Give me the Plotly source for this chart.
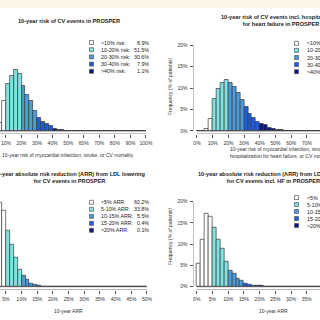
import plotly.graph_objects as go

# ---------------- data ----------------
risk_bin_width = 2.5
risk_bin_starts = [i * 2.5 for i in range(40)]  # 0..97.5
# top-left: 10-year risk of CV events (% of patients per bin)
tl_values = [0, 0, 1.9, 7.0, 11.0, 12.9, 14.2, 13.4, 10.5, 8.4, 7.0, 4.7,
             3.0, 2.1, 1.6, 1.2, 0.5, 0.3, 0.2, 0.1] + [0] * 20
# top-right: 10-year risk of CV events incl. HF
tr_values = [0, 0, 0.6, 2.9, 7.5, 9.7, 11.1, 11.8, 11.3, 10.2, 8.9, 7.3,
             5.7, 4.1, 3.0, 2.2, 1.6, 1.5, 0.8, 0.5, 0.3, 0.2, 0.1, 0.05] + [0] * 16

arr_bin_width = 1.25
arr_bin_starts = [i * 1.25 for i in range(40)]  # 0..48.75
# bottom-left: 10-year ARR
bl_values = [9.0, 13.7, 19.7, 17.8, 13.2, 9.8, 6.8, 4.0, 2.7, 1.6, 0.8, 0.4,
             0.2, 0.1, 0.05, 0.05, 0.04, 0.03, 0.02, 0.01] + [0] * 20
# bottom-right: 10-year ARR incl. HF
br_values = [5.5, 11.0, 17.3, 16.5, 13.9, 11.1, 9.0, 5.8, 3.7, 3.1, 2.0, 1.4,
             0.8, 0.55, 0.35, 0.25, 0.15, 0.1, 0.05] + [0] * 21

risk_ticks = [0, 10, 20, 30, 40, 50, 60, 70, 80, 90, 100]
arr_ticks = [0, 5, 10, 15, 20, 25, 30, 35, 40, 45, 50]
freq_ticks = [0, 5, 10, 15, 20]

risk_thresholds = [10, 20, 30, 40]
arr_thresholds = [5, 10, 15, 20]

tl_legend_labels = ["<10% risk:", "10-20% risk:", "20-30% risk:", "30-40% risk:", ">40% risk:"]
tl_legend_values = ["8.9%", "51.5%", "30.6%", "7.9%", "1.1%"]
tr_legend_labels = ["<10%", "10-20%", "20-30%", "30-40%", ">40%"]
bl_legend_labels = ["<5% ARR:", "5-10% ARR:", "10-15% ARR:", "15-20% ARR:", ">20% ARR:"]
bl_legend_values = ["60.2%", "33.8%", "5.5%", "0.4%", "0.1%"]
br_legend_labels = ["<5%", "5-10%", "10-15%", "15-20%", ">20%"]

titles = {
    "tl": "10-year risk of CV events in PROSPER",
    "tr": "10-year risk of CV events incl. hospitalization<br>for heart failure in PROSPER",
    "bl": "10-year absolute risk reduction (ARR) from LDL lowering<br>for CV events in PROSPER",
    "br": "10-year absolute risk reduction (ARR) from LDL lowering<br>for CV events incl. HF in PROSPER",
}
xtitles = {
    "tl": "10-year risk of myocardial infarction, stroke, or CV mortality",
    "tr": "10-year risk of myocardial infarction, stroke, or<br>hospitalization for heart failure, or CV mortality",
    "bl": "10-year ARR",
    "br": "10-year ARR",
}
ytitle = "Frequency (% of patients)"

# ---------------- style ----------------
palette = ["#FFFFFF", "#80E2E2", "#4C9BDA", "#1E5CE6", "#0B1782"]
edge = "#3a3a3a"
FONT = "Liberation Sans, Arial, sans-serif"
W = H = 320


def px(x):
    return x / W


def py(y):
    return 1 - y / H


def colors_for(starts, thresholds):
    out = []
    for s in starts:
        k = sum(1 for t in thresholds if s >= t)
        out.append(palette[k])
    return out


fig = go.Figure()

panels = [
    # key, axis suffix, starts, width, values, thresholds, ticks, x domain px, x range, y domain px, y range, show y
    ("tl", "", risk_bin_starts, risk_bin_width, tl_values, risk_thresholds, risk_ticks,
     (0, 152), (6.17, 103.9), (134, 42.85), (-0.7, 20.5), False),
    ("tr", "2", risk_bin_starts, risk_bin_width, tr_values, risk_thresholds, risk_ticks,
     (193.5, 320), (-2.2, 78.3), (134, 42.85), (-0.7, 20.5), True),
    ("bl", "3", arr_bin_starts, arr_bin_width, bl_values, arr_thresholds, arr_ticks,
     (0, 152), (3.1, 51.6), (289.9, 199.6), (-0.75, 20.5), False),
    ("br", "4", arr_bin_starts, arr_bin_width, br_values, arr_thresholds, arr_ticks,
     (193.5, 320), (-1.02, 39.2), (289.9, 199.6), (-0.75, 20.5), True),
]

layout_axes = {}
for key, suf, starts, bw, vals, thr, ticks, xd, xr, yd, yr, showy in panels:
    xa = "x" + suf
    ya = "y" + suf
    centers = [s + bw / 2 for s in starts]
    fig.add_trace(go.Bar(
        x=centers, y=vals, width=bw, xaxis=xa, yaxis=ya,
        marker=dict(color=colors_for(starts, thr), line=dict(color=edge, width=0.7)),
        showlegend=False, hoverinfo="skip"))
    # histogram baseline (zero-height bins)
    fig.add_trace(go.Scatter(
        x=[starts[0], starts[-1] + bw], y=[0, 0], mode="lines", xaxis=xa, yaxis=ya,
        line=dict(color=edge, width=0.7), showlegend=False, hoverinfo="skip"))
    # x axis line from first to last tick
    fig.add_trace(go.Scatter(
        x=[ticks[0], ticks[-1]], y=[yr[0], yr[0]], mode="lines", xaxis=xa, yaxis=ya,
        line=dict(color="#555", width=0.7), cliponaxis=False,
        showlegend=False, hoverinfo="skip"))
    if showy:
        fig.add_trace(go.Scatter(
            x=[xr[0], xr[0]], y=[freq_ticks[0], freq_ticks[-1]], mode="lines",
            xaxis=xa, yaxis=ya, line=dict(color="#555", width=0.7), cliponaxis=False,
            showlegend=False, hoverinfo="skip"))
    xname = "xaxis" + suf
    yname = "yaxis" + suf
    layout_axes[xname] = dict(
        domain=[px(xd[0]), px(xd[1])], range=list(xr), anchor=ya,
        tickvals=ticks, ticktext=[f"{t}%" for t in ticks],
        ticks="outside", ticklen=3, tickwidth=0.7, tickcolor="#555",
        tickfont=dict(size=5, color="#333", family=FONT),
        showgrid=False, zeroline=False, showline=False, ticklabelstandoff=1)
    layout_axes[yname] = dict(
        domain=[py(yd[0]), py(yd[1])], range=list(yr), anchor=xa,
        visible=showy,
        tickvals=freq_ticks, ticktext=[f"{t}%" for t in freq_ticks],
        ticks="outside", ticklen=3, tickwidth=0.7, tickcolor="#555",
        tickfont=dict(size=5, color="#333", family=FONT),
        showgrid=False, zeroline=False, showline=False, ticklabelstandoff=1)

annotations = []
shapes = []

# top cream band
shapes.append(dict(type="rect", xref="paper", yref="paper", x0=0, x1=1, y0=py(7.5), y1=1,
                   fillcolor="#FBF7E4", line=dict(width=0), layer="below"))


def add_text(text, x, y, size, xanchor="center", bold=False, angle=0, color="#222"):
    t = f"<b>{text}</b>" if bold else text
    annotations.append(dict(text=t, x=px(x), y=py(y), xref="paper", yref="paper",
                            showarrow=False, xanchor=xanchor, yanchor="middle",
                            textangle=angle, font=dict(size=size, family=FONT, color=color)))


# titles
add_text(titles["tl"], 69, 21.5, 5.6, bold=True)
add_text(titles["tr"], 281, 20.7, 5.6, bold=True)
add_text(titles["bl"], 70, 177.3, 5.6, bold=True)
add_text(titles["br"], 274, 177.5, 5.6, bold=True)

# x titles
add_text(xtitles["tl"], 68, 155, 5, color="#333")
add_text(xtitles["tr"], 281, 152.3, 5, color="#333")
add_text(xtitles["bl"], 68, 310.5, 5, color="#333")
add_text(xtitles["br"], 273, 310.5, 5, color="#333")

# y titles
add_text(ytitle, 170, 86, 5, angle=-90, color="#333")
add_text(ytitle, 170, 236, 5, angle=-90, color="#333")


def legend(labels, values, sq_x, text_x, val_x, y0, dy):
    for i, lab in enumerate(labels):
        y = y0 + dy * i
        shapes.append(dict(type="rect", xref="paper", yref="paper",
                           x0=px(sq_x), x1=px(sq_x + 4), y0=py(y + 2), y1=py(y - 2),
                           fillcolor=palette[i], line=dict(color="#555", width=0.7)))
        add_text(lab, text_x, y, 5.3, xanchor="left", color="#222")
        if values is not None:
            add_text(values[i], val_x, y, 5.3, xanchor="right", color="#222")


legend(tl_legend_labels, tl_legend_values, 89.5, 99, 151, 42.5, 7.2)
legend(tr_legend_labels, None, 294.5, 305, None, 43.3, 7.1)
legend(bl_legend_labels, bl_legend_values, 89.5, 99, 151, 202.3, 7.0)
legend(br_legend_labels, None, 294.5, 305, None, 197.5, 7.0)

fig.update_layout(
    width=W, height=H, margin=dict(l=0, r=0, t=0, b=0),
    paper_bgcolor="white", plot_bgcolor="white",
    barmode="overlay", bargap=0, showlegend=False,
    annotations=annotations, shapes=shapes, **layout_axes)

fig.write_html("out.html", config={"displayModeBar": False})
